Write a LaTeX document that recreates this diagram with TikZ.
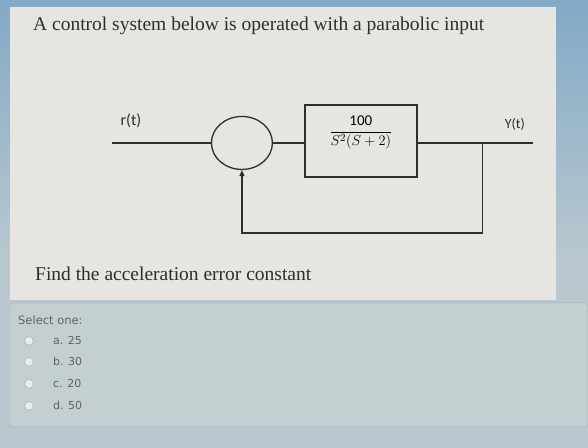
\documentclass[tikz,border=0pt]{standalone}
\usepackage{fontspec}
\usepackage{amsmath}
\setmainfont{Liberation Serif}
\setsansfont{Carlito}
\newfontfamily\uifont{DejaVu Sans}
\usetikzlibrary{shapes.geometric, arrows.meta, positioning}
\definecolor{pageblue}{HTML}{82A9C7}
\definecolor{pagegray}{HTML}{B9C8CE}
\definecolor{panelbg}{HTML}{E7E5E1}
\definecolor{selectbg}{HTML}{C4CFD2}
\definecolor{inkdark}{HTML}{2E2E2E}
\definecolor{inkgray}{HTML}{5C6368}

\begin{document}
\begin{tikzpicture}[
    x=1pt, y=-1pt,
    wire/.style={draw=inkdark, line width=1.3pt},
    arrow/.style={wire, -{Triangle[length=6pt, width=5pt]}},
    sumnode/.style={ellipse, draw=inkdark, line width=1.3pt, minimum width=61pt, minimum height=53pt, inner sep=0pt},
    block/.style={rectangle, draw=inkdark, line width=1.3pt, minimum width=112pt, minimum height=72pt, inner sep=2pt, text depth=30pt, font=\fontsize{15}{17}\selectfont},
    signal/.style={font=\sffamily\fontsize{16}{18}\selectfont, text=inkdark, inner sep=0pt},
    question/.style={font=\fontsize{19.5}{22}\selectfont, text=inkdark, anchor=base west, inner sep=0pt},
    radio/.style={circle, draw=gray!55, fill=white!60!selectbg, line width=0.8pt, minimum size=9pt, inner sep=0pt},
    choice/.style={font=\uifont\fontsize{11}{13}\selectfont, text=inkgray, anchor=west, inner sep=0pt}
]

% Page
\fill[pagegray] (0,0) rectangle (588,448);
\shade[top color=pageblue, bottom color=pagegray] (0,0) rectangle (588,260);
\fill[panelbg] (10,7) rectangle (556,300);
\filldraw[fill=selectbg, draw=selectbg!85!black, rounded corners=3pt] (10,303) rectangle (588,427);

% Texts
\node[question] (title) at (33,31) {A control system below is operated with a parabolic input};
\node[question] (task) at (35,281) {Find the acceleration error constant};

% Nodes
\node[sumnode] (sum) at (242,143) {};
\node[block] (plant) at (361,141) {$\dfrac{\text{\sffamily 100}}{S^2(S+2)}$};
\node[signal] (rlabel) at (131,121) {r(t)};
\node[signal, font=\sffamily\fontsize{14}{16}\selectfont] (ylabel) at (515,124) {Y(t)};

\coordinate (in) at (112,143);
\coordinate (out) at (533,143);
\coordinate (branch) at (483,143);
\coordinate (fbcorner) at (483,233);

% Arrows
\draw[wire] (in) -- (sum.west);
\draw[wire] (sum.east) -- (sum.east -| plant.west);
\draw[wire] (sum.east -| plant.east) -- (out);
\draw[arrow] (branch) -- (fbcorner) -| (sum.south);

% Choices
\node[choice, font=\uifont\fontsize{11.5}{13}\selectfont] (select) at (18,320) {Select one:};
\foreach \letter/\answer/\ypos in {a/25/341, b/30/362, c/20/384, d/50/406} {
    \node[radio] (radio\letter) at (29,\ypos) {};
    \node[choice, right=19pt of radio\letter] (choice\letter) {\letter. \answer};
}

\end{tikzpicture}
\end{document}
